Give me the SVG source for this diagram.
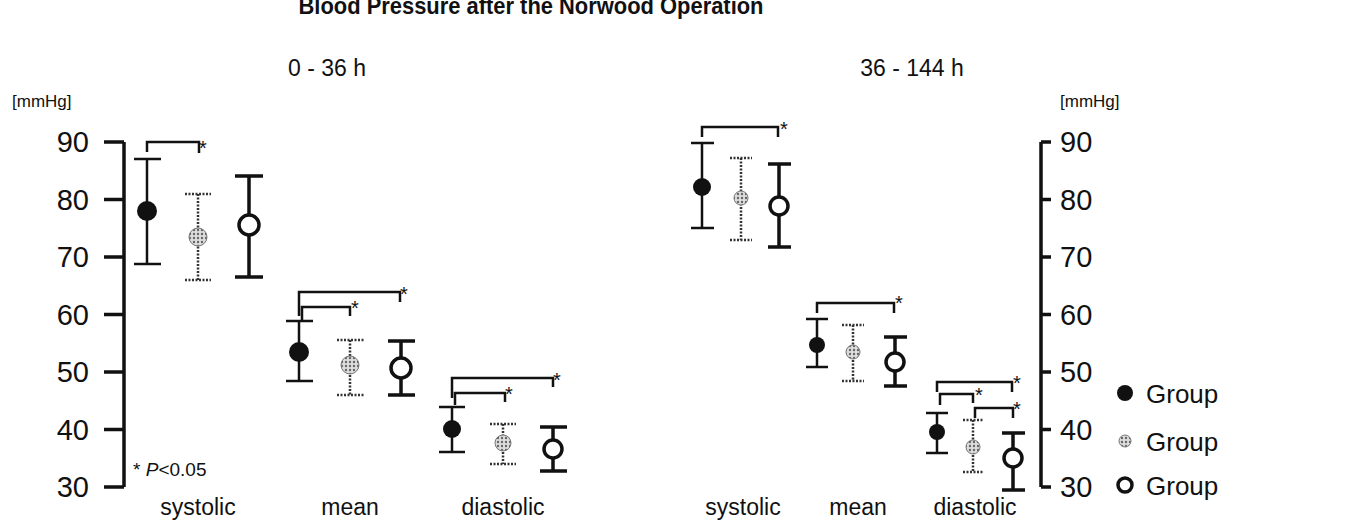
<svg xmlns="http://www.w3.org/2000/svg" width="1371" height="527" viewBox="0 0 1371 527">
<style>
text{font-family:"Liberation Sans",Arial,sans-serif;fill:#111}
.ax{stroke:#111;stroke-width:3.5;fill:none}
.e1{stroke:#111;stroke-width:2.5;fill:none}
.e2{stroke:#333;stroke-width:2.5;stroke-dasharray:2 1.5;fill:none}
.e3{stroke:#111;stroke-width:3.5;fill:none}
.br{stroke:#111;stroke-width:2.5;fill:none}
.m1{fill:#111}
.m2{fill:url(#dots);stroke:#777;stroke-width:1}
.m3{fill:#fff;stroke:#111;stroke-width:3.5}
.tick{font-size:29px;text-anchor:end}
.lab{font-size:23px;text-anchor:middle}
.st{font-size:20px}
</style>
<defs>
<pattern id="dots" width="4" height="4" patternUnits="userSpaceOnUse"><rect width="4" height="4" fill="#ddd"/><circle cx="2" cy="2" r="1.2" fill="#666"/></pattern>
</defs>
<text x="531" y="14" font-size="24" font-weight="bold" text-anchor="middle" textLength="465" lengthAdjust="spacingAndGlyphs">Blood Pressure after the Norwood Operation</text>
<text x="327" y="76" class="lab">0 - 36 h</text>
<text x="912" y="76" class="lab">36 - 144 h</text>
<g id="axis-left">
<text x="12" y="107" font-size="17">[mmHg]</text>
<path class="ax" d="M124 142V487M104 142H124M104 199.5H124M104 257H124M104 314.5H124M104 372H124M104 429.5H124M104 487H124"/>
<text class="tick" x="89" y="152">90</text><text class="tick" x="89" y="210">80</text><text class="tick" x="89" y="267">70</text><text class="tick" x="89" y="325">60</text><text class="tick" x="89" y="382">50</text><text class="tick" x="89" y="440">40</text><text class="tick" x="89" y="497">30</text>
<text x="133" y="476" font-size="19">* <tspan font-style="italic">P</tspan>&lt;0.05</text>
</g>
<g id="axis-right">
<text x="1060" y="107" font-size="17">[mmHg]</text>
<path class="ax" d="M1041 142V487M1041 142H1051M1041 199.5H1051M1041 257H1051M1041 314.5H1051M1041 372H1051M1041 429.5H1051M1041 487H1051"/>
<g style="text-anchor:start;font-size:29px"><text x="1060" y="152">90</text><text x="1060" y="210">80</text><text x="1060" y="267">70</text><text x="1060" y="325">60</text><text x="1060" y="382">50</text><text x="1060" y="440">40</text><text x="1060" y="497">30</text></g>
</g>
<g id="labels">
<text class="lab" x="198" y="515">systolic</text><text class="lab" x="350" y="515">mean</text><text class="lab" x="503" y="515">diastolic</text>
<text class="lab" x="743" y="515">systolic</text><text class="lab" x="858" y="515">mean</text><text class="lab" x="975" y="515">diastolic</text>
</g>
<g id="connectors">
<path class="br" d="M147 152V142H199V153"/>
<path class="br" d="M299 316V292H400V302M302 322V307H350V316"/>
<path class="br" d="M452 398V378H553V387M455 405V393H505V402"/>
<path class="br" d="M702 137V127H778V137"/>
<path class="br" d="M817 313V303H894V313"/>
<path class="br" d="M937 392V382H1012V392M940 405V394H973V403M975 418V408H1013V418"/>
<g class="st"><text x="199" y="155">*</text><text x="400" y="301">*</text><text x="351" y="315">*</text><text x="553" y="387">*</text><text x="505" y="401">*</text><text x="780" y="136">*</text><text x="895" y="310">*</text><text x="1013" y="390">*</text><text x="975" y="402">*</text><text x="1013" y="416">*</text></g>
</g>
<g id="bars-left">
<path class="e1" d="M147 159V264M134 159H161M134 264H161"/><circle class="m1" cx="147" cy="211" r="10"/>
<path class="e2" d="M198 194V280M185 194H211M185 280H211"/><circle class="m2" cx="198" cy="237" r="9"/>
<path class="e3" d="M249 176V277M235 176H263M235 277H263"/><circle class="m3" cx="249" cy="225" r="10"/>
<path class="e1" d="M299 321V381M286 321H313M286 381H313"/><circle class="m1" cx="299" cy="352" r="10"/>
<path class="e2" d="M350 340V395M337 340H364M337 395H364"/><circle class="m2" cx="350" cy="365" r="9"/>
<path class="e3" d="M401 341V395M388 341H415M388 395H415"/><circle class="m3" cx="401" cy="368" r="10"/>
<path class="e1" d="M452 407V452M439 407H465M439 452H465"/><circle class="m1" cx="452" cy="429" r="9"/>
<path class="e2" d="M503 424V464M490 424H516M490 464H516"/><circle class="m2" cx="503" cy="443" r="8"/>
<path class="e3" d="M553 427V471M540 427H567M540 471H567"/><circle class="m3" cx="553" cy="449" r="9"/>
</g>
<g id="bars-right">
<path class="e1" d="M702 143V228M691 143H714M691 228H714"/><circle class="m1" cx="702" cy="187" r="9"/>
<path class="e2" d="M741 158V240M730 158H752M730 240H752"/><circle class="m2" cx="741" cy="198" r="7"/>
<path class="e3" d="M779 164V247M768 164H791M768 247H791"/><circle class="m3" cx="779" cy="206" r="9"/>
<path class="e1" d="M817 319V367M806 319H828M806 367H828"/><circle class="m1" cx="817" cy="345" r="8"/>
<path class="e2" d="M853 325V381M842 325H864M842 381H864"/><circle class="m2" cx="853" cy="352" r="7"/>
<path class="e3" d="M895 337V386M884 337H907M884 386H907"/><circle class="m3" cx="895" cy="362" r="9"/>
<path class="e1" d="M937 413V453M926 413H948M926 453H948"/><circle class="m1" cx="937" cy="432" r="8"/>
<path class="e2" d="M973 420V472M963 420H984M963 472H984"/><circle class="m2" cx="973" cy="447" r="7"/>
<path class="e3" d="M1013 433V490M1002 433H1025M1002 490H1025"/><circle class="m3" cx="1013" cy="458" r="9"/>
</g>
<g id="legend">
<circle class="m1" cx="1125" cy="393" r="8"/><text x="1146" y="403" font-size="26">Group</text>
<circle class="m2" cx="1125" cy="441" r="6"/><text x="1146" y="451" font-size="26">Group</text>
<circle class="m3" cx="1125" cy="485" r="7"/><text x="1146" y="495" font-size="26">Group</text>
</g>
</svg>
